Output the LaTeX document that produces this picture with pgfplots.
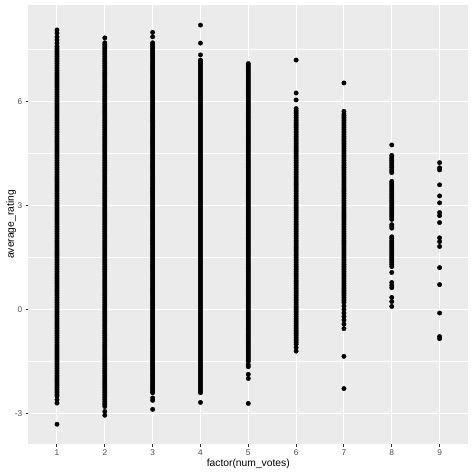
\documentclass[border=0pt]{standalone}
\usepackage{fontspec}
\setmainfont{Liberation Sans}
\usepackage{pgfplots}
\pgfplotsset{compat=1.18}
\definecolor{ggbg}{HTML}{EBEBEB}
\definecolor{gg30}{HTML}{4D4D4D}
\definecolor{gg20}{HTML}{333333}
\pgfplotsset{pt/.style={only marks, mark=*, mark size=2.2bp, draw=black, fill=black, mark options={draw=none, fill=black}}}
\begin{document}
\begin{tikzpicture}
\path[use as bounding box] (-28.3bp,-30bp) rectangle (445.7bp,444bp);
\begin{axis}[
 at={(0,0)}, anchor=south west,
 scale only axis, width=440bp, height=439bp,
 xmin=0.4, xmax=9.6, ymin=-3.88, ymax=8.79,
 axis background/.style={fill=ggbg},
 axis line style={draw=none},
 xtick={1,2,3,4,5,6,7,8,9}, xticklabels={1,2,3,4,5,6,7,8,9},
 ytick={-3,0,3,6}, yticklabels={-3,0,3,6},
 minor ytick={-1.5,1.5,4.5,7.5},
 xmajorgrids, ymajorgrids, yminorgrids,
 major grid style={draw=white, line width=1bp},
 minor grid style={draw=white, line width=0.5bp},
 tick align=outside, xtick pos=left, ytick pos=left,
 major tick length=2.6bp, minor tick length=0pt,
 tick style={draw=gg20, line width=1bp},
 ticklabel style={font=\fontsize{8.3bp}{9bp}\selectfont, text=gg30},
 /pgf/number format/assume math mode=true,
 xlabel={factor(num\_votes)}, ylabel={average\_rating},
 label style={font=\fontsize{10.3bp}{12bp}\selectfont, text=black},
 xlabel style={at={(axis description cs:0.5,-0.0456)}, anchor=center},
 ylabel style={at={(axis description cs:-0.0386,0.5)}, anchor=center},
]
% column 1
\addplot[pt] coordinates {(1,8.07)(1,7.98)(1,7.87)(1,7.78)(1,7.69)
(1,7.6)(1,7.5)(1,7.4)(1,7.3)(1,7.2)(1,7.1)(1,7.0)(1,6.9)(1,6.8)(1,6.7)(1,6.6)(1,6.5)(1,6.4)(1,6.3)(1,6.2)(1,6.1)(1,6.0)
(1,5.9)(1,5.8)(1,5.7)(1,5.6)(1,5.5)(1,5.4)(1,5.3)(1,5.2)(1,5.1)(1,5.0)(1,4.9)(1,4.8)(1,4.7)(1,4.6)(1,4.5)(1,4.4)(1,4.3)(1,4.2)(1,4.1)(1,4.0)
(1,3.9)(1,3.8)(1,3.7)(1,3.6)(1,3.5)(1,3.4)(1,3.3)(1,3.2)(1,3.1)(1,3.0)(1,2.9)(1,2.8)(1,2.7)(1,2.6)(1,2.5)(1,2.4)(1,2.3)(1,2.2)(1,2.1)(1,2.0)
(1,1.9)(1,1.8)(1,1.7)(1,1.6)(1,1.5)(1,1.4)(1,1.3)(1,1.2)(1,1.1)(1,1.0)(1,0.9)(1,0.8)(1,0.7)(1,0.6)(1,0.5)(1,0.4)(1,0.3)(1,0.2)(1,0.1)(1,0.0)
(1,-0.1)(1,-0.2)(1,-0.3)(1,-0.4)(1,-0.5)(1,-0.6)(1,-0.7)(1,-0.8)(1,-0.9)(1,-1.0)(1,-1.1)(1,-1.2)(1,-1.3)(1,-1.4)(1,-1.5)(1,-1.6)(1,-1.7)(1,-1.8)(1,-1.9)(1,-2.0)
(1,-2.1)(1,-2.2)(1,-2.3)(1,-2.4)(1,-2.5)(1,-2.6)(1,-2.7)(1,-3.31)};
\addplot[pt] coordinates {(1,7.55)(1,7.45)(1,7.35)(1,7.25)(1,7.15)(1,7.05)(1,6.95)(1,6.85)(1,6.75)(1,6.65)(1,6.55)(1,6.45)(1,6.35)(1,6.25)(1,6.15)(1,6.05)
(1,5.95)(1,5.85)(1,5.75)(1,5.65)(1,5.55)(1,5.45)(1,5.35)(1,5.25)(1,5.15)(1,5.05)(1,4.95)(1,4.85)(1,4.75)(1,4.65)(1,4.55)(1,4.45)(1,4.35)(1,4.25)(1,4.15)(1,4.05)
(1,3.95)(1,3.85)(1,3.75)(1,3.65)(1,3.55)(1,3.45)(1,3.35)(1,3.25)(1,3.15)(1,3.05)(1,2.95)(1,2.85)(1,2.75)(1,2.65)(1,2.55)(1,2.45)(1,2.35)(1,2.25)(1,2.15)(1,2.05)
(1,1.95)(1,1.85)(1,1.75)(1,1.65)(1,1.55)(1,1.45)(1,1.35)(1,1.25)(1,1.15)(1,1.05)(1,0.95)(1,0.85)(1,0.75)(1,0.65)(1,0.55)(1,0.45)(1,0.35)(1,0.25)(1,0.15)(1,0.05)
(1,-0.05)(1,-0.15)(1,-0.25)(1,-0.35)(1,-0.45)(1,-0.55)(1,-0.65)(1,-0.75)(1,-0.85)(1,-0.95)(1,-1.05)(1,-1.15)(1,-1.25)(1,-1.35)(1,-1.45)(1,-1.55)(1,-1.65)(1,-1.75)(1,-1.85)(1,-1.95)
(1,-2.05)(1,-2.15)(1,-2.25)(1,-2.35)(1,-2.45)};
% column 2
\addplot[pt] coordinates {(2,7.84)
(2,7.7)(2,7.6)(2,7.5)(2,7.4)(2,7.3)(2,7.2)(2,7.1)(2,7.0)(2,6.9)(2,6.8)(2,6.7)(2,6.6)(2,6.5)(2,6.4)(2,6.3)(2,6.2)(2,6.1)(2,6.0)
(2,5.9)(2,5.8)(2,5.7)(2,5.6)(2,5.5)(2,5.4)(2,5.3)(2,5.2)(2,5.1)(2,5.0)(2,4.9)(2,4.8)(2,4.7)(2,4.6)(2,4.5)(2,4.4)(2,4.3)(2,4.2)(2,4.1)(2,4.0)
(2,3.9)(2,3.8)(2,3.7)(2,3.6)(2,3.5)(2,3.4)(2,3.3)(2,3.2)(2,3.1)(2,3.0)(2,2.9)(2,2.8)(2,2.7)(2,2.6)(2,2.5)(2,2.4)(2,2.3)(2,2.2)(2,2.1)(2,2.0)
(2,1.9)(2,1.8)(2,1.7)(2,1.6)(2,1.5)(2,1.4)(2,1.3)(2,1.2)(2,1.1)(2,1.0)(2,0.9)(2,0.8)(2,0.7)(2,0.6)(2,0.5)(2,0.4)(2,0.3)(2,0.2)(2,0.1)(2,0.0)
(2,-0.1)(2,-0.2)(2,-0.3)(2,-0.4)(2,-0.5)(2,-0.6)(2,-0.7)(2,-0.8)(2,-0.9)(2,-1.0)(2,-1.1)(2,-1.2)(2,-1.3)(2,-1.4)(2,-1.5)(2,-1.6)(2,-1.7)(2,-1.8)(2,-1.9)(2,-2.0)
(2,-2.1)(2,-2.2)(2,-2.3)(2,-2.4)(2,-2.5)(2,-2.6)(2,-2.7)(2,-2.8)(2,-2.94)(2,-3.05)};
\addplot[pt] coordinates {(2,7.65)(2,7.55)(2,7.45)(2,7.35)(2,7.25)(2,7.15)(2,7.05)(2,6.95)(2,6.85)(2,6.75)(2,6.65)(2,6.55)(2,6.45)(2,6.35)(2,6.25)(2,6.15)(2,6.05)
(2,5.95)(2,5.85)(2,5.75)(2,5.65)(2,5.55)(2,5.45)(2,5.35)(2,5.25)(2,5.15)(2,5.05)(2,4.95)(2,4.85)(2,4.75)(2,4.65)(2,4.55)(2,4.45)(2,4.35)(2,4.25)(2,4.15)(2,4.05)
(2,3.95)(2,3.85)(2,3.75)(2,3.65)(2,3.55)(2,3.45)(2,3.35)(2,3.25)(2,3.15)(2,3.05)(2,2.95)(2,2.85)(2,2.75)(2,2.65)(2,2.55)(2,2.45)(2,2.35)(2,2.25)(2,2.15)(2,2.05)
(2,1.95)(2,1.85)(2,1.75)(2,1.65)(2,1.55)(2,1.45)(2,1.35)(2,1.25)(2,1.15)(2,1.05)(2,0.95)(2,0.85)(2,0.75)(2,0.65)(2,0.55)(2,0.45)(2,0.35)(2,0.25)(2,0.15)(2,0.05)
(2,-0.05)(2,-0.15)(2,-0.25)(2,-0.35)(2,-0.45)(2,-0.55)(2,-0.65)(2,-0.75)(2,-0.85)(2,-0.95)(2,-1.05)(2,-1.15)(2,-1.25)(2,-1.35)(2,-1.45)(2,-1.55)(2,-1.65)(2,-1.75)(2,-1.85)(2,-1.95)
(2,-2.05)(2,-2.15)(2,-2.25)(2,-2.35)(2,-2.45)(2,-2.55)(2,-2.65)(2,-2.75)};
% column 3
\addplot[pt] coordinates {(3,8.0)(3,7.87)
(3,7.7)(3,7.6)(3,7.5)(3,7.4)(3,7.3)(3,7.2)(3,7.1)(3,7.0)(3,6.9)(3,6.8)(3,6.7)(3,6.6)(3,6.5)(3,6.4)(3,6.3)(3,6.2)(3,6.1)(3,6.0)
(3,5.9)(3,5.8)(3,5.7)(3,5.6)(3,5.5)(3,5.4)(3,5.3)(3,5.2)(3,5.1)(3,5.0)(3,4.9)(3,4.8)(3,4.7)(3,4.6)(3,4.5)(3,4.4)(3,4.3)(3,4.2)(3,4.1)(3,4.0)
(3,3.9)(3,3.8)(3,3.7)(3,3.6)(3,3.5)(3,3.4)(3,3.3)(3,3.2)(3,3.1)(3,3.0)(3,2.9)(3,2.8)(3,2.7)(3,2.6)(3,2.5)(3,2.4)(3,2.3)(3,2.2)(3,2.1)(3,2.0)
(3,1.9)(3,1.8)(3,1.7)(3,1.6)(3,1.5)(3,1.4)(3,1.3)(3,1.2)(3,1.1)(3,1.0)(3,0.9)(3,0.8)(3,0.7)(3,0.6)(3,0.5)(3,0.4)(3,0.3)(3,0.2)(3,0.1)(3,0.0)
(3,-0.1)(3,-0.2)(3,-0.3)(3,-0.4)(3,-0.5)(3,-0.6)(3,-0.7)(3,-0.8)(3,-0.9)(3,-1.0)(3,-1.1)(3,-1.2)(3,-1.3)(3,-1.4)(3,-1.5)(3,-1.6)(3,-1.7)(3,-1.8)(3,-1.9)(3,-2.0)
(3,-2.1)(3,-2.2)(3,-2.3)(3,-2.4)(3,-2.55)(3,-2.62)(3,-2.88)};
\addplot[pt] coordinates {(3,7.65)(3,7.55)(3,7.45)(3,7.35)(3,7.25)(3,7.15)(3,7.05)(3,6.95)(3,6.85)(3,6.75)(3,6.65)(3,6.55)(3,6.45)(3,6.35)(3,6.25)(3,6.15)(3,6.05)
(3,5.95)(3,5.85)(3,5.75)(3,5.65)(3,5.55)(3,5.45)(3,5.35)(3,5.25)(3,5.15)(3,5.05)(3,4.95)(3,4.85)(3,4.75)(3,4.65)(3,4.55)(3,4.45)(3,4.35)(3,4.25)(3,4.15)(3,4.05)
(3,3.95)(3,3.85)(3,3.75)(3,3.65)(3,3.55)(3,3.45)(3,3.35)(3,3.25)(3,3.15)(3,3.05)(3,2.95)(3,2.85)(3,2.75)(3,2.65)(3,2.55)(3,2.45)(3,2.35)(3,2.25)(3,2.15)(3,2.05)
(3,1.95)(3,1.85)(3,1.75)(3,1.65)(3,1.55)(3,1.45)(3,1.35)(3,1.25)(3,1.15)(3,1.05)(3,0.95)(3,0.85)(3,0.75)(3,0.65)(3,0.55)(3,0.45)(3,0.35)(3,0.25)(3,0.15)(3,0.05)
(3,-0.05)(3,-0.15)(3,-0.25)(3,-0.35)(3,-0.45)(3,-0.55)(3,-0.65)(3,-0.75)(3,-0.85)(3,-0.95)(3,-1.05)(3,-1.15)(3,-1.25)(3,-1.35)(3,-1.45)(3,-1.55)(3,-1.65)(3,-1.75)(3,-1.85)(3,-1.95)
(3,-2.05)(3,-2.15)(3,-2.25)(3,-2.35)};
% column 4
\addplot[pt] coordinates {(4,8.21)(4,7.69)(4,7.35)
(4,7.2)(4,7.1)(4,7.0)(4,6.9)(4,6.8)(4,6.7)(4,6.6)(4,6.5)(4,6.4)(4,6.3)(4,6.2)(4,6.1)(4,6.0)
(4,5.9)(4,5.8)(4,5.7)(4,5.6)(4,5.5)(4,5.4)(4,5.3)(4,5.2)(4,5.1)(4,5.0)(4,4.9)(4,4.8)(4,4.7)(4,4.6)(4,4.5)(4,4.4)(4,4.3)(4,4.2)(4,4.1)(4,4.0)
(4,3.9)(4,3.8)(4,3.7)(4,3.6)(4,3.5)(4,3.4)(4,3.3)(4,3.2)(4,3.1)(4,3.0)(4,2.9)(4,2.8)(4,2.7)(4,2.6)(4,2.5)(4,2.4)(4,2.3)(4,2.2)(4,2.1)(4,2.0)
(4,1.9)(4,1.8)(4,1.7)(4,1.6)(4,1.5)(4,1.4)(4,1.3)(4,1.2)(4,1.1)(4,1.0)(4,0.9)(4,0.8)(4,0.7)(4,0.6)(4,0.5)(4,0.4)(4,0.3)(4,0.2)(4,0.1)(4,0.0)
(4,-0.1)(4,-0.2)(4,-0.3)(4,-0.4)(4,-0.5)(4,-0.6)(4,-0.7)(4,-0.8)(4,-0.9)(4,-1.0)(4,-1.1)(4,-1.2)(4,-1.3)(4,-1.4)(4,-1.5)(4,-1.6)(4,-1.7)(4,-1.8)(4,-1.9)(4,-2.0)
(4,-2.1)(4,-2.2)(4,-2.3)(4,-2.4)(4,-2.68)};
\addplot[pt] coordinates {(4,7.15)(4,7.05)(4,6.95)(4,6.85)(4,6.75)(4,6.65)(4,6.55)(4,6.45)(4,6.35)(4,6.25)(4,6.15)(4,6.05)
(4,5.95)(4,5.85)(4,5.75)(4,5.65)(4,5.55)(4,5.45)(4,5.35)(4,5.25)(4,5.15)(4,5.05)(4,4.95)(4,4.85)(4,4.75)(4,4.65)(4,4.55)(4,4.45)(4,4.35)(4,4.25)(4,4.15)(4,4.05)
(4,3.95)(4,3.85)(4,3.75)(4,3.65)(4,3.55)(4,3.45)(4,3.35)(4,3.25)(4,3.15)(4,3.05)(4,2.95)(4,2.85)(4,2.75)(4,2.65)(4,2.55)(4,2.45)(4,2.35)(4,2.25)(4,2.15)(4,2.05)
(4,1.95)(4,1.85)(4,1.75)(4,1.65)(4,1.55)(4,1.45)(4,1.35)(4,1.25)(4,1.15)(4,1.05)(4,0.95)(4,0.85)(4,0.75)(4,0.65)(4,0.55)(4,0.45)(4,0.35)(4,0.25)(4,0.15)(4,0.05)
(4,-0.05)(4,-0.15)(4,-0.25)(4,-0.35)(4,-0.45)(4,-0.55)(4,-0.65)(4,-0.75)(4,-0.85)(4,-0.95)(4,-1.05)(4,-1.15)(4,-1.25)(4,-1.35)(4,-1.45)(4,-1.55)(4,-1.65)(4,-1.75)(4,-1.85)(4,-1.95)
(4,-2.05)(4,-2.15)(4,-2.25)(4,-2.35)};
% column 5
\addplot[pt] coordinates {
(5,7.1)(5,7.0)(5,6.9)(5,6.8)(5,6.7)(5,6.6)(5,6.5)(5,6.4)(5,6.3)(5,6.2)(5,6.1)(5,6.0)
(5,5.9)(5,5.8)(5,5.7)(5,5.6)(5,5.5)(5,5.4)(5,5.3)(5,5.2)(5,5.1)(5,5.0)(5,4.9)(5,4.8)(5,4.7)(5,4.6)(5,4.5)(5,4.4)(5,4.3)(5,4.2)(5,4.1)(5,4.0)
(5,3.9)(5,3.8)(5,3.7)(5,3.6)(5,3.5)(5,3.4)(5,3.3)(5,3.2)(5,3.1)(5,3.0)(5,2.9)(5,2.8)(5,2.7)(5,2.6)(5,2.5)(5,2.4)(5,2.3)(5,2.2)(5,2.1)(5,2.0)
(5,1.9)(5,1.8)(5,1.7)(5,1.6)(5,1.5)(5,1.4)(5,1.3)(5,1.2)(5,1.1)(5,1.0)(5,0.9)(5,0.8)(5,0.7)(5,0.6)(5,0.5)(5,0.4)(5,0.3)(5,0.2)(5,0.1)(5,0.0)
(5,-0.1)(5,-0.2)(5,-0.3)(5,-0.4)(5,-0.5)(5,-0.6)(5,-0.7)(5,-0.8)(5,-0.9)(5,-1.0)(5,-1.1)(5,-1.2)(5,-1.3)(5,-1.4)(5,-1.5)
(5,-1.59)(5,-1.65)(5,-1.87)(5,-1.99)(5,-2.71)};
\addplot[pt] coordinates {(5,7.05)(5,6.95)(5,6.85)(5,6.75)(5,6.65)(5,6.55)(5,6.45)(5,6.35)(5,6.25)(5,6.15)(5,6.05)
(5,5.95)(5,5.85)(5,5.75)(5,5.65)(5,5.55)(5,5.45)(5,5.35)(5,5.25)(5,5.15)(5,5.05)(5,4.95)(5,4.85)(5,4.75)(5,4.65)(5,4.55)(5,4.45)(5,4.35)(5,4.25)(5,4.15)(5,4.05)
(5,3.95)(5,3.85)(5,3.75)(5,3.65)(5,3.55)(5,3.45)(5,3.35)(5,3.25)(5,3.15)(5,3.05)(5,2.95)(5,2.85)(5,2.75)(5,2.65)(5,2.55)(5,2.45)(5,2.35)(5,2.25)(5,2.15)(5,2.05)
(5,1.95)(5,1.85)(5,1.75)(5,1.65)(5,1.55)(5,1.45)(5,1.35)(5,1.25)(5,1.15)(5,1.05)(5,0.95)(5,0.85)(5,0.75)(5,0.65)(5,0.55)(5,0.45)(5,0.35)(5,0.25)(5,0.15)(5,0.05)
(5,-0.05)(5,-0.15)(5,-0.25)(5,-0.35)(5,-0.45)(5,-0.55)(5,-0.65)(5,-0.75)(5,-0.85)(5,-0.95)(5,-1.05)(5,-1.15)(5,-1.25)(5,-1.35)(5,-1.45)};
% column 6
\addplot[pt] coordinates {(6,7.2)(6,6.25)(6,6.05)
(6,5.8)(6,5.7)(6,5.6)(6,5.5)(6,5.4)(6,5.3)(6,5.2)(6,5.1)(6,5.0)(6,4.9)(6,4.8)(6,4.7)(6,4.6)(6,4.5)(6,4.4)(6,4.3)(6,4.2)(6,4.1)(6,4.0)
(6,3.9)(6,3.8)(6,3.7)(6,3.6)(6,3.5)(6,3.4)(6,3.3)(6,3.2)(6,3.1)(6,3.0)(6,2.9)(6,2.8)(6,2.7)(6,2.6)(6,2.5)(6,2.4)(6,2.3)(6,2.2)(6,2.1)(6,2.0)
(6,1.9)(6,1.8)(6,1.7)(6,1.6)(6,1.5)(6,1.4)(6,1.3)(6,1.2)(6,1.1)(6,1.0)(6,0.9)(6,0.8)(6,0.7)(6,0.6)(6,0.5)(6,0.4)(6,0.3)(6,0.2)(6,0.1)(6,0.0)
(6,-0.1)(6,-0.2)(6,-0.3)(6,-0.4)(6,-0.5)(6,-0.6)(6,-0.7)(6,-0.8)(6,-0.9)(6,-1.0)(6,-1.1)(6,-1.2)};
\addplot[pt] coordinates {(6,5.75)(6,5.65)(6,5.55)(6,5.45)(6,5.35)(6,5.25)(6,5.15)(6,5.05)(6,4.95)(6,4.85)(6,4.75)(6,4.65)(6,4.55)(6,4.45)(6,4.35)(6,4.25)(6,4.15)(6,4.05)
(6,3.95)(6,3.85)(6,3.75)(6,3.65)(6,3.55)(6,3.45)(6,3.35)(6,3.25)(6,3.15)(6,3.05)(6,2.95)(6,2.85)(6,2.75)(6,2.65)(6,2.55)(6,2.45)(6,2.35)(6,2.25)(6,2.15)(6,2.05)
(6,1.95)(6,1.85)(6,1.75)(6,1.65)(6,1.55)(6,1.45)(6,1.35)(6,1.25)(6,1.15)(6,1.05)(6,0.95)(6,0.85)(6,0.75)(6,0.65)(6,0.55)(6,0.45)(6,0.35)(6,0.25)(6,0.15)(6,0.05)
(6,-0.05)(6,-0.15)(6,-0.25)(6,-0.35)(6,-0.45)(6,-0.55)(6,-0.65)(6,-0.75)(6,-0.85)(6,-0.95)};
% column 7
\addplot[pt] coordinates {(7,6.54)
(7,5.72)(7,5.6)(7,5.5)(7,5.4)(7,5.3)(7,5.2)(7,5.1)(7,5.0)(7,4.9)(7,4.8)(7,4.7)(7,4.6)(7,4.5)(7,4.4)(7,4.3)(7,4.2)(7,4.1)(7,4.0)
(7,3.9)(7,3.8)(7,3.7)(7,3.6)(7,3.5)(7,3.4)(7,3.3)(7,3.2)(7,3.1)(7,3.0)(7,2.9)(7,2.8)(7,2.7)(7,2.6)(7,2.5)(7,2.4)(7,2.3)(7,2.2)(7,2.1)(7,2.0)
(7,1.9)(7,1.8)(7,1.7)(7,1.6)(7,1.5)(7,1.4)(7,1.3)(7,1.2)(7,1.1)(7,1.0)(7,0.9)(7,0.8)(7,0.7)(7,0.6)(7,0.5)(7,0.4)(7,0.3)(7,0.2)
(7,0.1)(7,0.0)(7,-0.1)(7,-0.2)(7,-0.3)(7,-0.42)(7,-0.55)(7,-1.35)(7,-2.28)};
\addplot[pt] coordinates {(7,5.65)(7,5.55)(7,5.45)(7,5.35)(7,5.25)(7,5.15)(7,5.05)(7,4.95)(7,4.85)(7,4.75)(7,4.65)(7,4.55)(7,4.45)(7,4.35)(7,4.25)(7,4.15)(7,4.05)
(7,3.95)(7,3.85)(7,3.75)(7,3.65)(7,3.55)(7,3.45)(7,3.35)(7,3.25)(7,3.15)(7,3.05)(7,2.95)(7,2.85)(7,2.75)(7,2.65)(7,2.55)(7,2.45)(7,2.35)(7,2.25)(7,2.15)(7,2.05)
(7,1.95)(7,1.85)(7,1.75)(7,1.65)(7,1.55)(7,1.45)(7,1.35)(7,1.25)(7,1.15)(7,1.05)(7,0.95)(7,0.85)(7,0.75)(7,0.65)(7,0.55)(7,0.45)(7,0.35)(7,0.25)};
% column 8
\addplot[pt] coordinates {(8,4.75)
(8,4.45)(8,4.35)(8,4.25)(8,4.15)(8,4.05)(8,3.95)(8,3.7)(8,3.6)(8,3.5)(8,3.4)(8,3.3)(8,3.2)(8,3.1)(8,3.0)(8,2.9)(8,2.8)(8,2.7)(8,2.6)
(8,2.45)(8,2.35)(8,2.1)(8,2.0)(8,1.9)(8,1.8)(8,1.7)(8,1.6)(8,1.5)(8,1.4)(8,1.3)(8,1.24)
(8,1.07)(8,0.78)(8,0.7)(8,0.63)(8,0.35)(8,0.23)(8,0.09)};
\addplot[pt] coordinates {(8,4.4)(8,4.3)(8,4.2)(8,4.1)(8,4.0)(8,3.65)(8,3.55)(8,3.45)(8,3.35)(8,3.25)(8,3.15)(8,3.05)(8,2.95)(8,2.85)(8,2.75)(8,2.65)
(8,2.4)(8,2.05)(8,1.95)(8,1.85)(8,1.75)(8,1.65)(8,1.55)(8,1.45)(8,1.35)};
% column 9
\addplot[pt] coordinates {(9,4.24)(9,4.09)(9,4.03)(9,3.6)(9,3.28)(9,3.08)(9,2.8)(9,2.71)(9,2.51)(9,2.07)(9,1.96)(9,1.82)(9,1.21)(9,0.72)(9,-0.1)(9,-0.78)(9,-0.84)};
\end{axis}
\end{tikzpicture}
\end{document}
